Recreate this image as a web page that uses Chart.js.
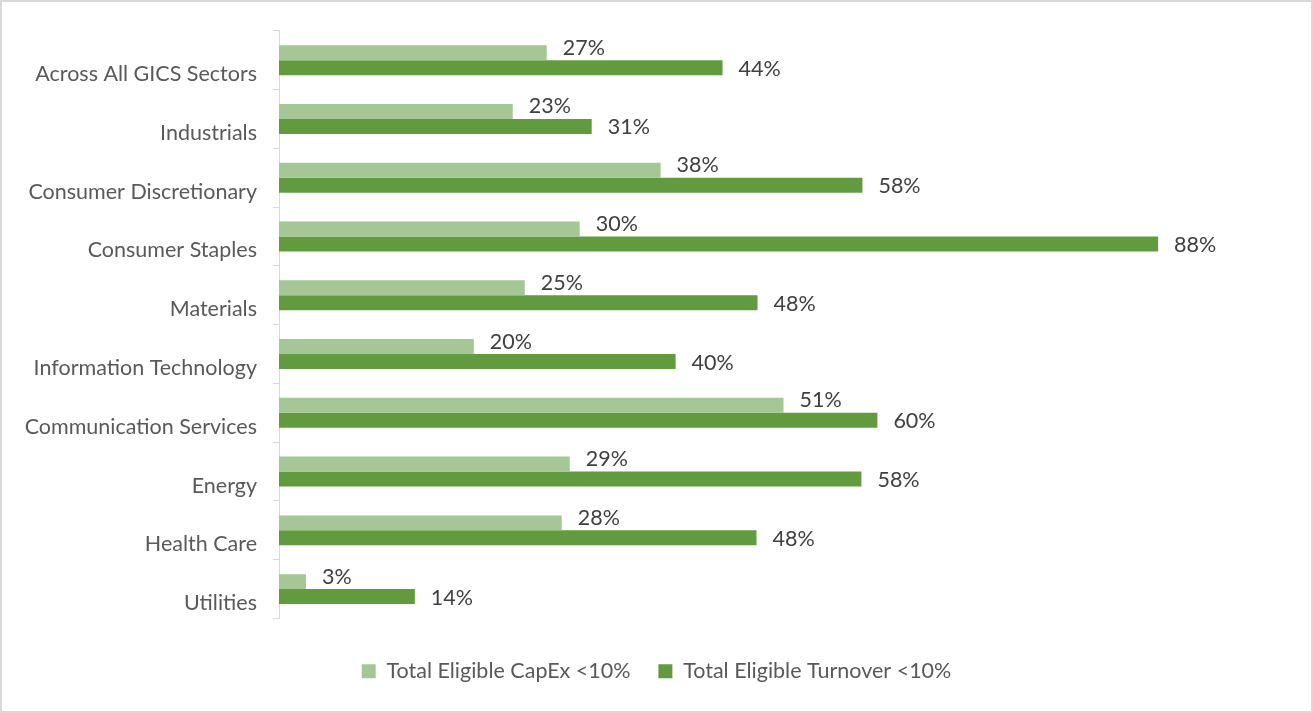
<!DOCTYPE html>
<html>
<head>
<meta charset="utf-8">
<script src="https://cdn.jsdelivr.net/npm/chart.js@4.4.1/dist/chart.umd.min.js"></script>
<style>
  html, body { margin: 0; padding: 0; background: #fff; }
  #wrap {
    position: relative;
    width: 1313px;
    height: 713px;
    box-sizing: border-box;
    border: 2px solid #d9d9d9;
  }
</style>
</head>
<body>
<div id="wrap"><canvas id="chart"></canvas></div>
<script>
const sectors = [
  'Across All GICS Sectors',
  'Industrials',
  'Consumer Discretionary',
  'Consumer Staples',
  'Materials',
  'Information Technology',
  'Communication Services',
  'Energy',
  'Health Care',
  'Utilities'
];
const capexValues = [26.8, 23.4, 38.2, 30.1, 24.6, 19.5, 50.5, 29.1, 28.3, 2.7];
const turnoverValues = [44.4, 31.3, 58.4, 88.0, 47.9, 39.7, 59.9, 58.3, 47.8, 13.6];
const seriesNames = ['Total Eligible CapEx <10%', 'Total Eligible Turnover <10%'];

const FONT = 'Lato, "Open Sans", sans-serif';
const FONT_SIZE = 21.5;

// draws "27%" style labels at the end of each bar
const barLabels = {
  id: 'barLabels',
  afterDatasetsDraw(chart) {
    const ctx = chart.ctx;
    ctx.save();
    ctx.font = FONT_SIZE + 'px ' + FONT;
    ctx.fillStyle = '#404040';
    ctx.textAlign = 'left';
    ctx.textBaseline = 'middle';
    chart.data.datasets.forEach((ds, di) => {
      const meta = chart.getDatasetMeta(di);
      const dy = di === 0 ? -5 : 1;
      meta.data.forEach((bar, i) => {
        ctx.fillText(Math.round(ds.data[i]) + '%', bar.x + 16, bar.y + dy);
      });
    });
    ctx.restore();
  }
};

const ctx = document.getElementById('chart').getContext('2d');
new Chart(ctx, {
  type: 'bar',
  data: {
    labels: sectors,
    datasets: [
      {
        label: seriesNames[0],
        data: capexValues,
        backgroundColor: '#a5c695',
        barPercentage: 1,
        categoryPercentage: 0.51
      },
      {
        label: seriesNames[1],
        data: turnoverValues,
        backgroundColor: '#629a3f',
        barPercentage: 1,
        categoryPercentage: 0.51
      }
    ]
  },
  plugins: [barLabels],
  options: {
    indexAxis: 'y',
    responsive: true,
    maintainAspectRatio: false,
    animation: false,
    layout: {
      padding: { top: 27, right: 0, bottom: 19, left: 0 }
    },
    plugins: {
      tooltip: { enabled: false },
      legend: {
        position: 'bottom',
        labels: {
          boxWidth: 14,
          boxHeight: 14,
          padding: 28,
          color: '#595959',
          font: { family: FONT, size: FONT_SIZE }
        }
      }
    },
    scales: {
      x: {
        min: 0,
        max: 100,
        afterFit: (axis) => { axis.height = 14; },
        ticks: { display: false },
        grid: { display: false },
        border: { display: false }
      },
      y: {
        afterFit: (axis) => { axis.width = 277; },
        ticks: {
          color: '#595959',
          padding: 16,
          labelOffset: 14,
          font: { family: FONT, size: FONT_SIZE }
        },
        grid: {
          offset: true,
          drawOnChartArea: false,
          drawTicks: true,
          tickLength: 6,
          color: '#d9d9d9'
        },
        border: { display: true, color: '#d9d9d9' }
      },
      // empty spacer on the right so the legend stays centred on the page
      spacer: {
        type: 'linear',
        position: 'right',
        afterFit: (axis) => { axis.width = 33; },
        ticks: { display: false },
        grid: { display: false },
        border: { display: false }
      }
    }
  }
});
</script>
</body>
</html>
